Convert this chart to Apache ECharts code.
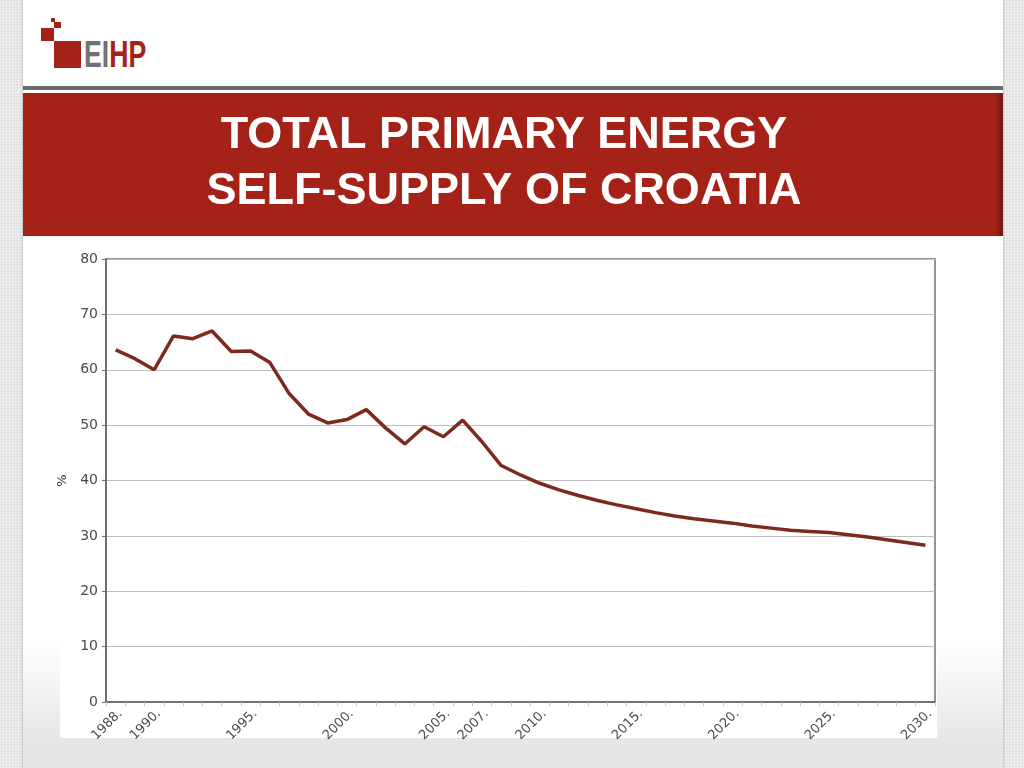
<!DOCTYPE html>
<html>
<head>
<meta charset="utf-8">
<script src="https://cdn.jsdelivr.net/npm/echarts@6/dist/echarts.min.js"></script>
<style>
  html, body { margin: 0; padding: 0; }
  body {
    width: 1024px; height: 768px; overflow: hidden; position: relative;
    background-color: #e2e2e2;
    background-image: repeating-linear-gradient(0deg, rgba(255,255,255,0.35) 0 1px, transparent 1px 3px),
                      repeating-linear-gradient(90deg, rgba(255,255,255,0.35) 0 1px, transparent 1px 3px);
  }
  #slide {
    position: absolute; left: 23px; top: 0; width: 980px; height: 768px;
    background: linear-gradient(to bottom, #ffffff 0, #ffffff 640px, #e6e6e6 742px, #e4e4e4 768px);
    box-shadow: 1px 0 2px rgba(0,0,0,0.15), -1px 0 2px rgba(0,0,0,0.15);
  }
  #rule { position: absolute; left: 23px; top: 86px; width: 980px; height: 4px; background: #6a6a6a; }
  #band { position: absolute; left: 23px; top: 93px; width: 980px; height: 143px; background: #a52219; }
  #band:after { content: ''; position: absolute; right: 0; top: 0; width: 8px; height: 100%;
    background: linear-gradient(to right, rgba(0,0,0,0), rgba(0,0,0,0.35)); }
  #plotbg { position: absolute; left: 60px; top: 245px; width: 877px; height: 493px; background: #fff; }
  .sq { position: absolute; background: #a52219; }
  #logotext { position: absolute; left: 84px; top: 34px; font: bold 36px "Liberation Sans", sans-serif;
    line-height: 42px; transform: scaleX(0.74); transform-origin: 0 0; }
  #chart { position: absolute; left: 0; top: 0; width: 1024px; height: 768px; }
</style>
</head>
<body>
<div id="slide"></div>
<div id="rule"></div>
<div id="band"></div>
<div id="plotbg"></div>
<div class="sq" style="left:51px;top:18px;width:4px;height:4px"></div>
<div class="sq" style="left:54px;top:22px;width:7px;height:6px"></div>
<div class="sq" style="left:41px;top:28px;width:13px;height:13px"></div>
<div class="sq" style="left:54px;top:41px;width:27px;height:27px"></div>
<div id="logotext"><span style="color:#727272">EI</span><span style="color:#a52219">HP</span></div>
<div id="chart"></div>
<script>
// godine (kategorije)
const years = ['1988.', '1989.', '1990.', '1991.', '1992.', '1993.', '1994.', '1995.', '1996.', '1997.',
  '1998.', '1999.', '2000.', '2001.', '2002.', '2003.', '2004.', '2005.', '2006.', '2007.',
  '2008.', '2009.', '2010.', '2011.', '2012.', '2013.', '2014.', '2015.', '2016.', '2017.',
  '2018.', '2019.', '2020.', '2021.', '2022.', '2023.', '2024.', '2025.', '2026.', '2027.',
  '2028.', '2029.', '2030.']

// samodostatnost, %
const selfSupply = [63.6, 62.0, 60.0, 66.1, 65.6, 67.0, 63.3, 63.4, 61.3, 55.7,
  52.0, 50.4, 51.0, 52.8, 49.5, 46.6, 49.7, 47.9, 50.9, 47.0,
  42.7, 41.0, 39.5, 38.3, 37.3, 36.4, 35.6, 34.9, 34.2, 33.6,
  33.1, 32.7, 32.3, 31.8, 31.4, 31.0, 30.8, 30.6, 30.2, 29.8,
  29.3, 28.8, 28.3]

// koje oznake na x osi se vide
const shownLabels = ['1988.', '1990.', '1995.', '2000.', '2005.', '2007.', '2010.', '2015.', '2020.', '2025.', '2030.']

const titleLines = ['TOTAL PRIMARY ENERGY', 'SELF-SUPPLY OF CROATIA']

var myChart = echarts.init(document.getElementById('chart'))

var option = {
  animation: false,
  title: {
    text: titleLines.join('\n'),
    left: 499,
    top: 103,
    textAlign: 'center',
    textStyle: {
      color: '#ffffff',
      fontSize: 45,
      fontWeight: 'bold',
      fontFamily: 'Liberation Sans, Arial, sans-serif',
      lineHeight: 56
    }
  },
  grid: {
    left: 106, right: 89, top: 259, bottom: 66,
    show: true,
    borderColor: '#707070',
    borderWidth: 1.5,
    backgroundColor: '#ffffff'
  },
  xAxis: {
    type: 'category',
    data: years,
    boundaryGap: true,
    axisLine: { show: true, lineStyle: { color: '#707070', width: 2 } },
    axisTick: { show: true, interval: 0, length: 4, inside: false, lineStyle: { color: '#c8c8c8' } },
    axisLabel: {
      rotate: 45,
      margin: 5,
      verticalAlign: 'top',
      color: '#4a4a4a',
      fontSize: 13,
      fontFamily: 'DejaVu Sans, sans-serif',
      interval: function (idx, value) { return shownLabels.indexOf(value) !== -1 }
    },
    splitLine: { show: false }
  },
  yAxis: {
    type: 'value',
    min: 0,
    max: 80,
    interval: 10,
    name: '%',
    nameLocation: 'middle',
    nameRotate: 90,
    nameGap: 36,
    nameTextStyle: { color: '#333', fontSize: 13, fontFamily: 'DejaVu Sans, sans-serif' },
    axisLine: { show: true, lineStyle: { color: '#707070', width: 2 } },
    axisTick: { show: true, length: 4, lineStyle: { color: '#707070' } },
    axisLabel: { color: '#4a4a4a', fontSize: 14, margin: 8, fontFamily: 'DejaVu Sans, sans-serif' },
    splitLine: { show: true, lineStyle: { color: '#bdbdbd', width: 1 } }
  },
  series: [
    {
      type: 'line',
      data: selfSupply,
      symbol: 'none',
      lineStyle: { color: '#7c2a1e', width: 3.5 },
      itemStyle: { color: '#7c2a1e' }
    }
  ]
}

myChart.setOption(option)
</script>
</body>
</html>
